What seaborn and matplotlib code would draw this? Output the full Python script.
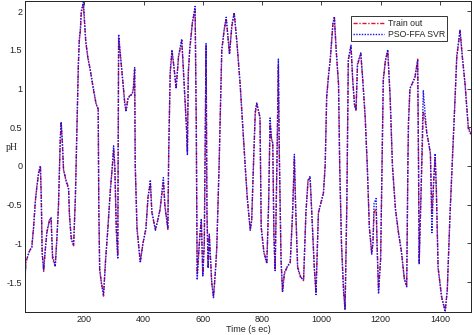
import matplotlib
matplotlib.use("Agg")
import matplotlib.pyplot as plt
import seaborn as sns
import pandas as pd

# ---- data ----
time = [0, 3, 8, 15, 23, 29, 35, 40, 46, 52, 55, 58, 63, 68, 74, 83, 88, 93, 102, 108,
        113, 119, 122, 126, 130, 140, 147, 150, 156, 164, 170, 176, 180, 183, 187, 190, 197, 205, 212, 220,
        230, 240, 247, 249, 252, 258, 265, 272, 280, 288, 295, 299, 303, 308, 313, 316, 320, 330, 336, 341,
        348, 362, 366, 370, 372, 378, 389, 398, 408, 415, 423, 428, 440, 448, 456, 467, 472, 482, 485, 490,
        496, 502, 510, 518, 529, 535, 545, 548, 551, 556, 565, 574, 578, 581, 590, 595, 600, 605, 611, 614,
        618, 622, 630, 636, 642, 647, 655, 664, 672, 679, 684, 690, 698, 706, 715, 726, 735, 743, 750, 760,
        765, 770, 777, 782, 793, 797, 806, 816, 822, 827, 832, 836, 840, 844, 850, 855, 858, 864, 869, 875,
        885, 895, 903, 909, 913, 920, 930, 940, 948, 955, 962, 970, 976, 982, 990, 1000, 1007, 1013, 1018, 1025,
        1030, 1039, 1044, 1050, 1058, 1062, 1068, 1075, 1080, 1086, 1091, 1100, 1106, 1112, 1117, 1122, 1133, 1140, 1148, 1155,
        1162, 1170, 1174, 1178, 1185, 1188, 1193, 1200, 1204, 1209, 1216, 1224, 1232, 1240, 1250, 1260, 1270, 1280, 1288, 1292,
        1294, 1299, 1316, 1325, 1328, 1330, 1336, 1344, 1350, 1356, 1362, 1368, 1373, 1379, 1384, 1388, 1394, 1406, 1418, 1425,
        1434, 1445, 1451, 1457, 1468, 1476, 1485, 1496, 1505]

train_out = [-1.45, -1.25, -1.18, -1.1, -1.04, -0.78, -0.44, -0.27, -0.1, 0.0, -0.4, -1.1, -1.36, -1.1, -0.86, -0.69, -0.67, -1.2, -1.29, -0.9,
             -0.52, 0.33, 0.55, 0.3, -0.05, -0.2, -0.28, -0.65, -0.92, -1.03, -0.4, 0.6, 1.3, 1.6, 1.75, 1.98, 2.08, 1.6, 1.4, 1.25,
             1.0, 0.8, 0.74, -0.5, -1.35, -1.5, -1.68, -1.2, -0.8, -0.3, 0.0, 0.22, 0.0, -0.8, -1.15, 1.65, 1.5, 1.1, 0.85, 0.72,
             0.89, 0.93, 1.0, 1.25, 0.0, -0.8, -1.23, -1.0, -0.8, -0.4, -0.22, -0.6, -0.82, -0.7, -0.56, -0.2, -0.5, -0.82, 0.2, 1.2,
             1.47, 1.3, 1.01, 1.4, 1.62, 1.2, 0.5, 0.18, 1.2, 1.5, 1.85, 2.02, 0.5, -1.4, -0.9, -0.72, -1.4, -1.0, 1.55, -0.6,
             -1.3, -0.9, -1.5, -1.69, -1.4, -1.08, 0.0, 1.49, 1.75, 1.9, 1.7, 1.45, 1.8, 1.97, 1.6, 1.06, 0.5, 0.0, -0.4, -0.82,
             -0.7, -0.1, 0.68, 0.8, 0.63, -0.78, -1.1, -1.25, -0.5, 0.55, 0.33, 0.3, -0.9, -1.33, 0.0, 1.3, 0.2, -1.2, -1.63, -1.4,
             -1.3, -1.25, -0.6, 0.1, -0.5, -1.3, -1.43, -1.48, -0.6, -0.18, -0.16, -0.78, -1.3, -1.62, -0.61, -0.45, -0.35, 0.0, 0.89, 1.2,
             1.36, 1.83, 1.91, 1.5, 1.06, 0.0, -1.0, -1.6, -1.85, -0.5, 1.36, 1.55, 1.1, 0.8, 0.72, 1.3, 1.45, 1.1, 0.63, 0.0,
             -0.78, -1.12, -1.0, -0.6, -0.55, -1.0, -1.6, -1.2, -0.22, 1.1, 1.35, 1.49, 0.9, 0.0, -0.55, -0.85, -1.1, -1.45, -1.55, 0.0,
             0.55, 1.0, 1.14, 1.38, 0.0, -1.25, -0.4, 0.7, 0.6, 0.42, 0.3, 0.16, -0.6, -0.2, 0.1, -0.3, -1.31, -1.69, -1.87, -1.6,
             -0.65, 0.3, 0.85, 1.4, 1.74, 1.4, 1.06, 0.5, 0.42]

pso_ffa_svr = [-1.5, -1.2, -1.18, -1.1, -1.05, -0.8, -0.46, -0.27, -0.08, 0.0, -0.45, -1.15, -1.34, -1.1, -0.84, -0.7, -0.67, -1.15, -1.3, -0.92,
               -0.5, 0.35, 0.57, 0.32, -0.05, -0.22, -0.3, -0.62, -0.95, -1.02, -0.42, 0.58, 1.3, 1.62, 1.78, 2.0, 2.12, 1.62, 1.4, 1.24,
               1.02, 0.8, 0.73, -0.52, -1.33, -1.52, -1.66, -1.22, -0.78, -0.32, 0.02, 0.26, 0.0, -0.82, -1.2, 1.7, 1.52, 1.1, 0.82, 0.7,
               0.88, 0.93, 1.02, 1.27, 0.02, -0.82, -1.25, -1.0, -0.82, -0.42, -0.18, -0.58, -0.83, -0.7, -0.55, -0.15, -0.52, -0.8, 0.18, 1.22,
               1.5, 1.3, 1.0, 1.42, 1.64, 1.2, 0.48, 0.14, 1.2, 1.52, 1.86, 2.06, 0.5, -1.47, -0.9, -0.68, -1.42, -1.0, 1.58, -0.62,
               -1.32, -0.88, -1.5, -1.7, -1.38, -1.06, 0.02, 1.5, 1.76, 1.92, 1.7, 1.44, 1.82, 1.98, 1.6, 1.05, 0.5, 0.0, -0.42, -0.83,
               -0.7, -0.08, 0.7, 0.82, 0.62, -0.8, -1.12, -1.26, -0.5, 0.62, 0.35, 0.3, -0.92, -1.35, 0.0, 1.38, 0.2, -1.22, -1.62, -1.38,
               -1.3, -1.24, -0.6, 0.15, -0.5, -1.32, -1.44, -1.47, -0.6, -0.2, -0.13, -0.8, -1.3, -1.66, -0.6, -0.46, -0.35, 0.02, 0.9, 1.2,
               1.38, 1.84, 1.93, 1.5, 1.05, 0.0, -1.02, -1.62, -1.86, -0.5, 1.38, 1.56, 1.1, 0.78, 0.72, 1.32, 1.46, 1.1, 0.62, 0.0,
               -0.8, -1.14, -1.0, -0.48, -0.42, -1.02, -1.65, -1.2, -0.2, 1.12, 1.36, 1.5, 0.9, 0.0, -0.56, -0.86, -1.1, -1.46, -1.56, 0.02,
               0.56, 1.0, 1.15, 1.36, 0.0, -1.27, -0.4, 0.97, 0.68, 0.42, 0.3, 0.16, -0.86, -0.2, 0.16, -0.3, -1.32, -1.7, -1.88, -1.6,
               -0.63, 0.32, 0.86, 1.42, 1.76, 1.4, 1.05, 0.48, 0.4]

x_ticks = [200, 400, 600, 800, 1000, 1200, 1400]
y_ticks = [-1.5, -1, -0.5, 0, 0.5, 1, 1.5, 2]
y_tick_labels = ["-1.5", "-1", "-0.5", "0", "0.5", "1", "1.5", "2"]

# ---- plot ----
sns.set_style("white")
plt.rcParams['font.family'] = ['Liberation Sans', 'DejaVu Sans']

fig = plt.figure(figsize=(4.74, 3.35), dpi=100)
ax = fig.add_axes([25 / 474, 23 / 335, 446 / 474, 311 / 335])

df = pd.DataFrame({"time": time, "train": train_out, "svr": pso_ffa_svr})

sns.lineplot(data=df, x="time", y="train", ax=ax, color="#e0102a", linewidth=1.0,
             label="Train out", errorbar=None, dashes=False)
sns.lineplot(data=df, x="time", y="svr", ax=ax, color="#1010f0", linewidth=1.0,
             label="PSO-FFA SVR", errorbar=None, dashes=False)
ax.lines[0].set_dashes([3, 1.2, 1, 1.2])
ax.lines[1].set_dashes([1, 1])

ax.set_xlim(0, 1505)
ax.set_ylim(-1.885, 2.13)
ax.set_xticks(x_ticks)
ax.set_xticklabels([str(t) for t in x_ticks])
ax.set_yticks(y_ticks)
ax.set_yticklabels(y_tick_labels)
ax.tick_params(direction="in", top=True, right=True, length=3, width=0.6,
               labelsize=6.5, pad=2, colors="#222222")
for sp in ax.spines.values():
    sp.set_color("#222222")
    sp.set_linewidth(0.7)

ax.set_xlabel("Time (s ec)", fontsize=6.5, labelpad=1)
ax.set_ylabel("")
fig.text(12 / 474, 1 - 148 / 335, "pH", fontsize=7, family=["Liberation Serif"],
         ha="center", va="center", color="#222222")

leg = ax.legend(loc="upper right", bbox_to_anchor=(0.957, 0.965), fontsize=6.3,
                frameon=True, fancybox=False, edgecolor="black", borderpad=0.3,
                handlelength=3.5, handletextpad=0.4, labelspacing=0.2)
leg.get_frame().set_linewidth(0.7)
for h in leg.get_lines():
    h.set_linewidth(1.0)

fig.savefig("out.png", dpi=100, facecolor="white")
